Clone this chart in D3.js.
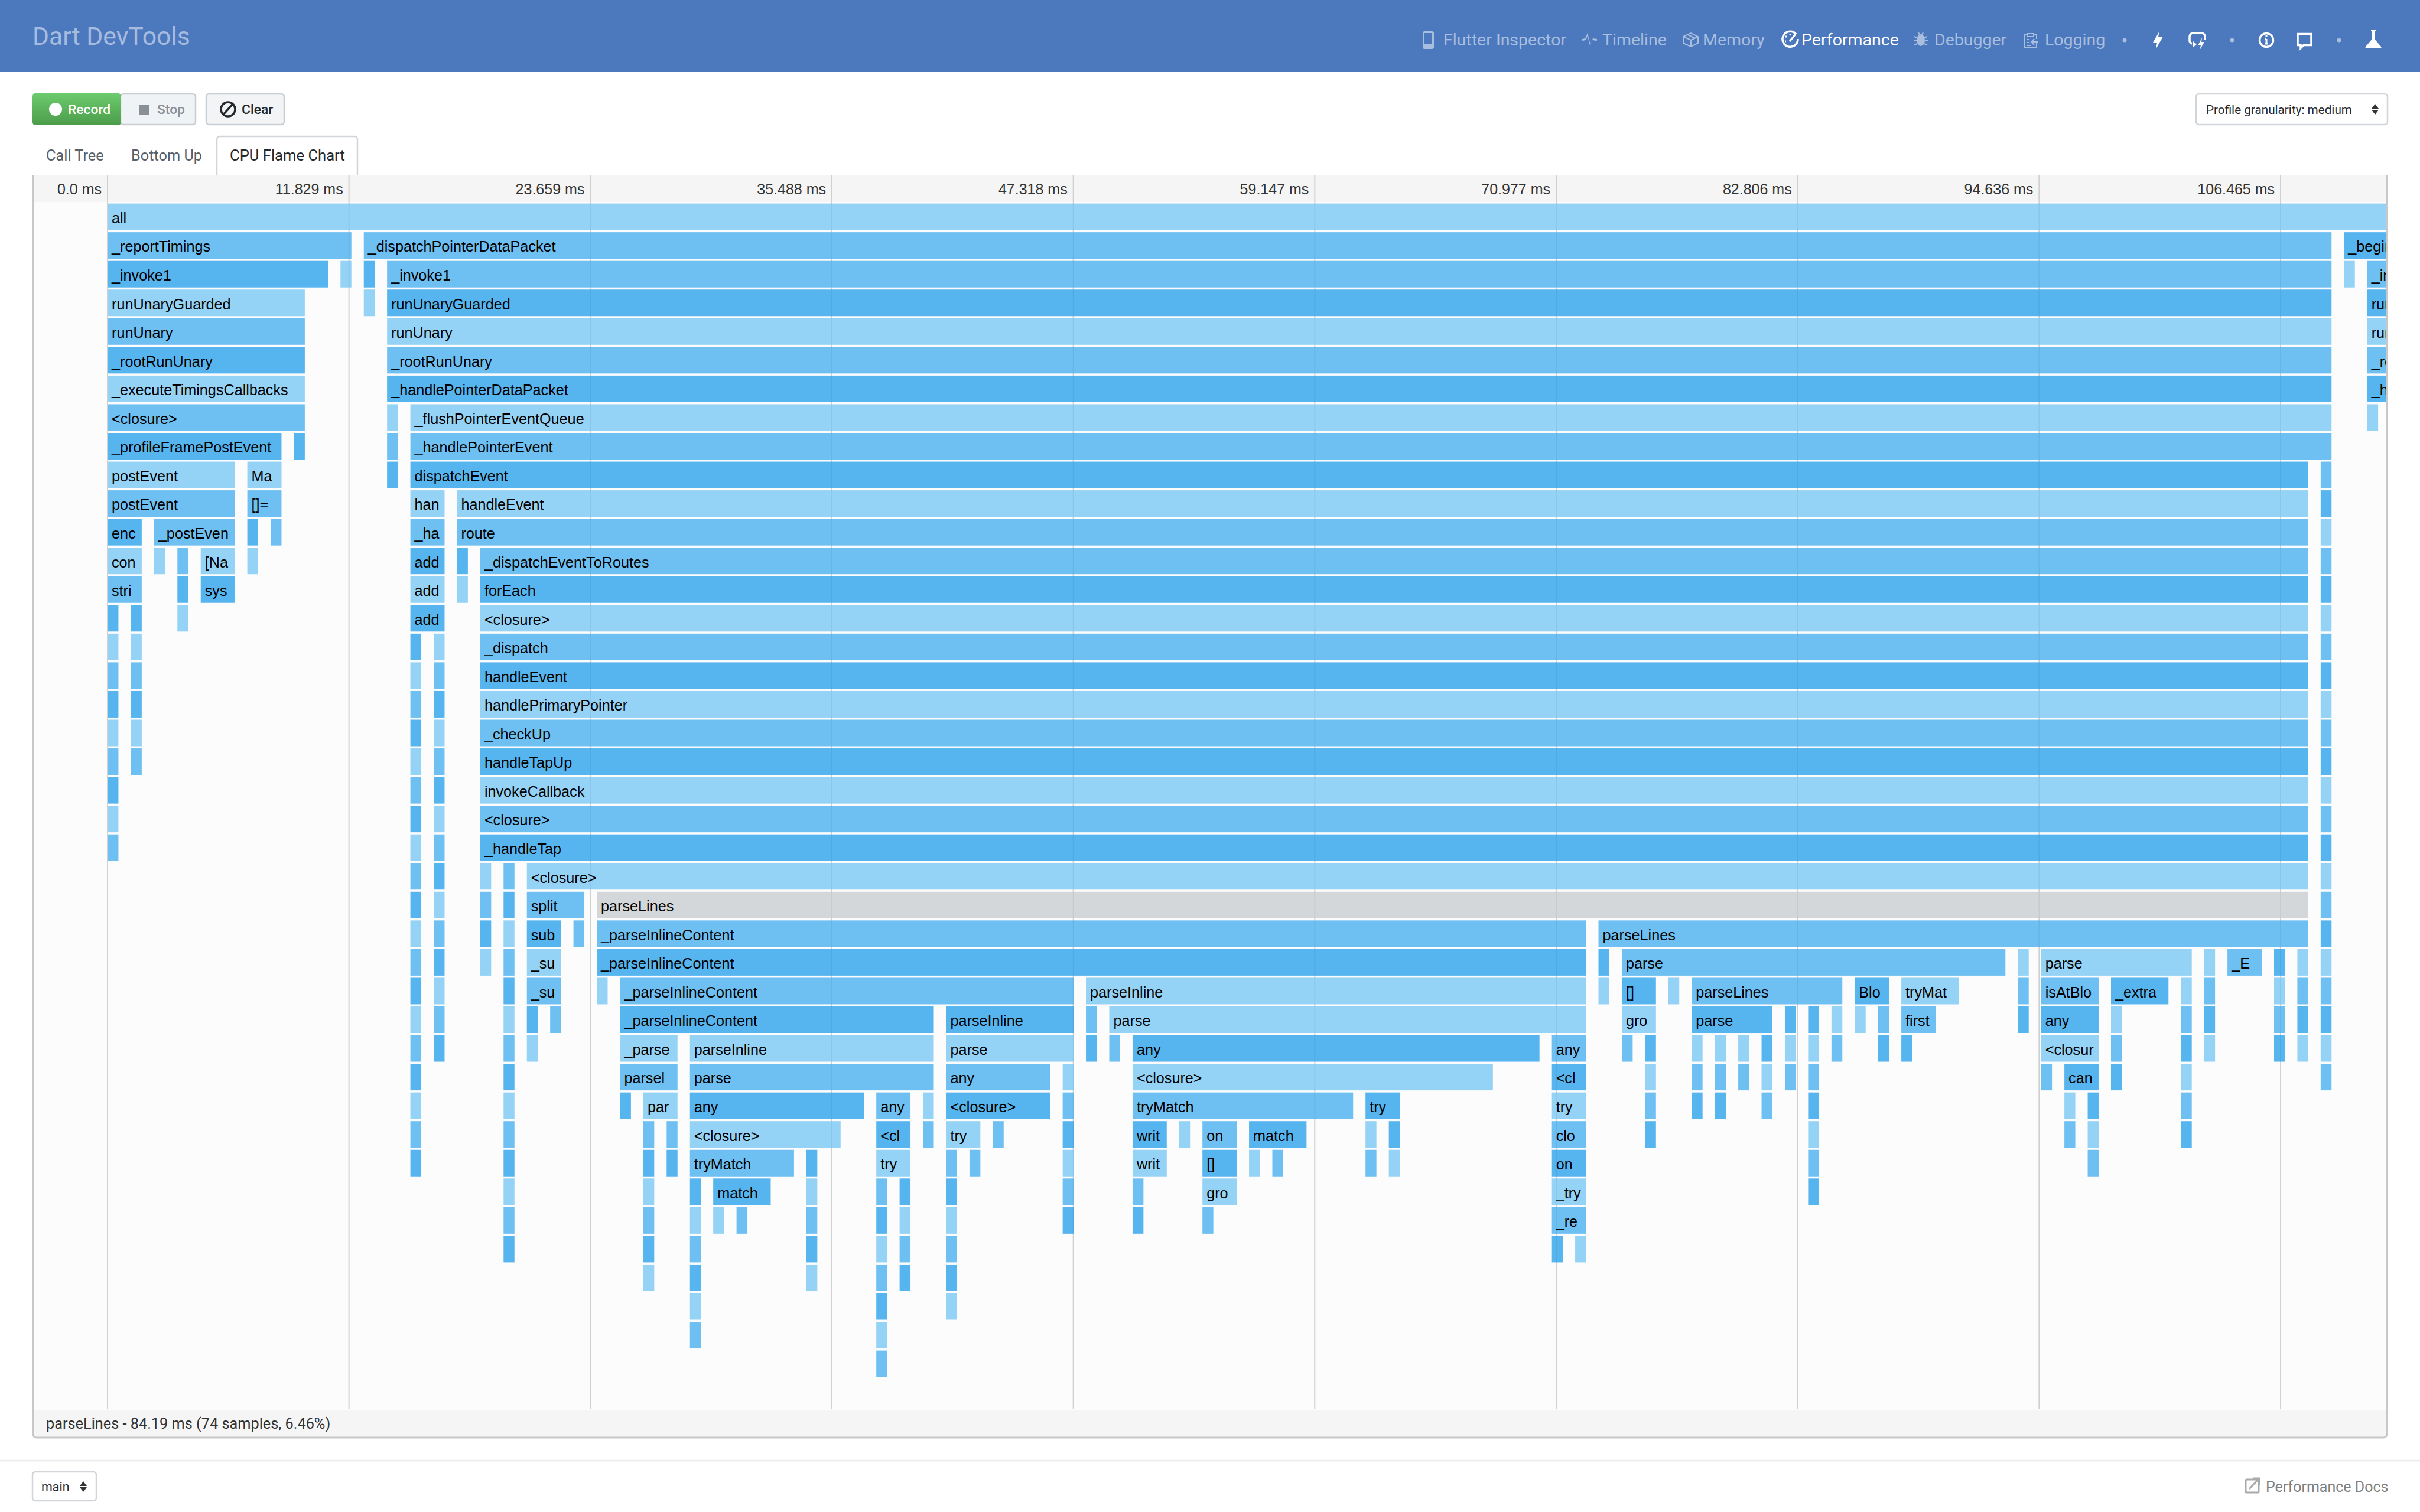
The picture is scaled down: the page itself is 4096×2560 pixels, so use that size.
<!DOCTYPE html>
<html>
<head>
<meta charset="utf-8">
<title>Dart DevTools</title>
<script src="https://d3js.org/d3.v7.min.js"></script>
<style>
  html, body { margin: 0; padding: 0; background: #fff; }
  svg { display: block; }
  text { font-family: "Liberation Sans", Arial, sans-serif; }
  .ui { font-family: Roboto, sans-serif; }
</style>
</head>
<body>
<script>
// time axis
var tickMs = [0, 11.829, 23.659, 35.488, 47.318, 59.147, 70.977, 82.806, 94.636, 106.465];
var tickLabels = ["0.0 ms", "11.829 ms", "23.659 ms", "35.488 ms", "47.318 ms", "59.147 ms", "70.977 ms", "82.806 ms", "94.636 ms", "106.465 ms"];

// flame rows: [label, first sample, sample count, shade]
// shade 0 light, 1 mid, 2 dark, 3 selected
var row00 = [["all", 0, 99, 0]];
var row01 = [["_reportTimings", 0, 11, 1], ["_dispatchPointerDataPacket", 11, 85, 1], ["_begin", 96, 3, 2]];
var row02 = [["_invoke1", 0, 10, 2], ["", 10, 1, 0], ["", 11, 1, 2], ["_invoke1", 12, 84, 1], ["", 96, 1, 0], ["_in", 97, 2, 1]];
var row03 = [["runUnaryGuarded", 0, 9, 0], ["", 11, 1, 0], ["runUnaryGuarded", 12, 84, 2], ["run", 97, 2, 2]];
var row04 = [["runUnary", 0, 9, 1], ["runUnary", 12, 84, 0], ["run", 97, 2, 0]];
var row05 = [["_rootRunUnary", 0, 9, 2], ["_rootRunUnary", 12, 84, 1], ["_ro", 97, 2, 1]];
var row06 = [["_executeTimingsCallbacks", 0, 9, 0], ["_handlePointerDataPacket", 12, 84, 2], ["_ha", 97, 2, 2]];
var row07 = [["<closure>", 0, 9, 1], ["", 12, 1, 0], ["_flushPointerEventQueue", 13, 83, 0], ["", 97, 1, 0]];
var row08 = [["_profileFramePostEvent", 0, 8, 2], ["", 8, 1, 2], ["", 12, 1, 1], ["_handlePointerEvent", 13, 83, 1]];
var row09 = [["postEvent", 0, 6, 0], ["Ma", 6, 2, 0], ["", 12, 1, 2], ["dispatchEvent", 13, 82, 2], ["", 95, 1, 1]];
var row10 = [["postEvent", 0, 6, 1], ["[]=", 6, 2, 1], ["han", 13, 2, 0], ["handleEvent", 15, 80, 0], ["", 95, 1, 2]];
var row11 = [["enc", 0, 2, 2], ["_postEven", 2, 4, 1], ["", 6, 1, 2], ["", 7, 1, 1], ["_ha", 13, 2, 1], ["route", 15, 80, 1], ["", 95, 1, 0]];
var row12 = [["con", 0, 2, 0], ["", 2, 1, 0], ["", 3, 1, 1], ["[Na", 4, 2, 0], ["", 6, 1, 0], ["add", 13, 2, 2], ["", 15, 1, 2], ["_dispatchEventToRoutes", 16, 79, 1], ["", 95, 1, 1]];
var row13 = [["stri", 0, 2, 1], ["", 3, 1, 2], ["sys", 4, 2, 2], ["add", 13, 2, 0], ["", 15, 1, 0], ["forEach", 16, 79, 2], ["", 95, 1, 2]];
var row14 = [["", 0, 1, 2], ["", 1, 1, 2], ["", 3, 1, 0], ["add", 13, 2, 2], ["<closure>", 16, 79, 0], ["", 95, 1, 0]];
var row15 = [["", 0, 1, 0], ["", 1, 1, 0], ["", 13, 1, 2], ["", 14, 1, 0], ["_dispatch", 16, 79, 1], ["", 95, 1, 1]];
var row16 = [["", 0, 1, 1], ["", 1, 1, 1], ["", 13, 1, 0], ["", 14, 1, 1], ["handleEvent", 16, 79, 2], ["", 95, 1, 2]];
var row17 = [["", 0, 1, 2], ["", 1, 1, 2], ["", 13, 1, 1], ["", 14, 1, 2], ["handlePrimaryPointer", 16, 79, 0], ["", 95, 1, 0]];
var row18 = [["", 0, 1, 0], ["", 1, 1, 0], ["", 13, 1, 2], ["", 14, 1, 0], ["_checkUp", 16, 79, 1], ["", 95, 1, 1]];
var row19 = [["", 0, 1, 1], ["", 1, 1, 1], ["", 13, 1, 0], ["", 14, 1, 1], ["handleTapUp", 16, 79, 2], ["", 95, 1, 2]];
var row20 = [["", 0, 1, 2], ["", 13, 1, 1], ["", 14, 1, 2], ["invokeCallback", 16, 79, 0], ["", 95, 1, 0]];
var row21 = [["", 0, 1, 0], ["", 13, 1, 2], ["", 14, 1, 0], ["<closure>", 16, 79, 1], ["", 95, 1, 1]];
var row22 = [["", 0, 1, 1], ["", 13, 1, 0], ["", 14, 1, 1], ["_handleTap", 16, 79, 2], ["", 95, 1, 2]];
var row23 = [["", 13, 1, 1], ["", 14, 1, 2], ["", 16, 1, 0], ["", 17, 1, 1], ["<closure>", 18, 77, 0], ["", 95, 1, 0]];
var row24 = [["", 13, 1, 2], ["", 14, 1, 0], ["", 16, 1, 1], ["", 17, 1, 2], ["split", 18, 3, 1], ["parseLines", 21, 74, 3], ["", 95, 1, 1]];
var row25 = [["", 13, 1, 0], ["", 14, 1, 1], ["", 16, 1, 2], ["", 17, 1, 0], ["sub", 18, 2, 2], ["", 20, 1, 1], ["_parseInlineContent", 21, 43, 1], ["parseLines", 64, 31, 1], ["", 95, 1, 2]];
var row26 = [["", 13, 1, 1], ["", 14, 1, 2], ["", 16, 1, 0], ["", 17, 1, 1], ["_su", 18, 2, 0], ["_parseInlineContent", 21, 43, 2], ["", 64, 1, 2], ["parse", 65, 17, 1], ["", 82, 1, 0], ["parse", 83, 7, 0], ["", 90, 1, 0], ["_E", 91, 2, 1], ["", 93, 1, 2], ["", 94, 1, 0], ["", 95, 1, 0]];
var row27 = [["", 13, 1, 2], ["", 14, 1, 0], ["", 17, 1, 2], ["_su", 18, 2, 1], ["", 21, 1, 0], ["_parseInlineContent", 22, 20, 1], ["parseInline", 42, 22, 0], ["", 64, 1, 0], ["[]", 65, 2, 2], ["", 67, 1, 0], ["parseLines", 68, 7, 1], ["Blo", 75, 2, 2], ["tryMat", 77, 3, 0], ["", 82, 1, 1], ["isAtBlo", 83, 3, 1], ["_extra", 86, 3, 2], ["", 89, 1, 0], ["", 90, 1, 1], ["", 93, 1, 0], ["", 94, 1, 1], ["", 95, 1, 1]];
var row28 = [["", 13, 1, 0], ["", 14, 1, 1], ["", 17, 1, 0], ["", 18, 1, 2], ["", 19, 1, 1], ["_parseInlineContent", 22, 14, 2], ["parseInline", 36, 6, 2], ["", 42, 1, 1], ["parse", 43, 21, 0], ["gro", 65, 2, 0], ["parse", 68, 4, 2], ["", 72, 1, 2], ["", 73, 1, 2], ["", 74, 1, 0], ["", 75, 1, 0], ["", 76, 1, 1], ["first", 77, 2, 1], ["", 82, 1, 2], ["any", 83, 3, 2], ["", 86, 1, 0], ["", 89, 1, 1], ["", 90, 1, 2], ["", 93, 1, 1], ["", 94, 1, 2], ["", 95, 1, 2]];
var row29 = [["", 13, 1, 1], ["", 14, 1, 2], ["", 17, 1, 1], ["", 18, 1, 0], ["_parse", 22, 3, 0], ["parseInline", 25, 11, 0], ["parse", 36, 6, 0], ["", 42, 1, 2], ["", 43, 1, 1], ["any", 44, 18, 2], ["any", 62, 2, 1], ["", 65, 1, 1], ["", 66, 1, 2], ["", 68, 1, 0], ["", 69, 1, 0], ["", 70, 1, 0], ["", 71, 1, 2], ["", 72, 1, 0], ["", 73, 1, 0], ["", 74, 1, 1], ["", 76, 1, 2], ["", 77, 1, 2], ["<closur", 83, 3, 0], ["", 86, 1, 1], ["", 89, 1, 2], ["", 90, 1, 0], ["", 93, 1, 2], ["", 94, 1, 0], ["", 95, 1, 0]];
var row30 = [["", 13, 1, 2], ["", 17, 1, 2], ["parsel", 22, 3, 1], ["parse", 25, 11, 1], ["any", 36, 5, 1], ["", 41, 1, 0], ["<closure>", 44, 16, 0], ["<cl", 62, 2, 2], ["", 66, 1, 0], ["", 68, 1, 1], ["", 69, 1, 1], ["", 70, 1, 1], ["", 71, 1, 0], ["", 72, 1, 1], ["", 73, 1, 1], ["", 83, 1, 1], ["can", 84, 2, 2], ["", 86, 1, 2], ["", 89, 1, 0], ["", 95, 1, 1]];
var row31 = [["", 13, 1, 0], ["", 17, 1, 0], ["", 22, 1, 2], ["par", 23, 2, 0], ["any", 25, 8, 2], ["any", 33, 2, 1], ["", 35, 1, 0], ["<closure>", 36, 5, 2], ["", 41, 1, 1], ["tryMatch", 44, 10, 1], ["try", 54, 2, 2], ["try", 62, 2, 0], ["", 66, 1, 1], ["", 68, 1, 2], ["", 69, 1, 2], ["", 71, 1, 1], ["", 73, 1, 2], ["", 84, 1, 0], ["", 85, 1, 2], ["", 89, 1, 1]];
var row32 = [["", 13, 1, 1], ["", 17, 1, 1], ["", 23, 1, 1], ["", 24, 1, 1], ["<closure>", 25, 7, 0], ["<cl", 33, 2, 2], ["", 35, 1, 1], ["try", 36, 2, 0], ["", 38, 1, 1], ["", 41, 1, 2], ["writ", 44, 2, 2], ["", 46, 1, 0], ["on", 47, 2, 1], ["match", 49, 3, 2], ["", 54, 1, 0], ["", 55, 1, 2], ["clo", 62, 2, 1], ["", 66, 1, 2], ["", 73, 1, 0], ["", 84, 1, 1], ["", 85, 1, 0], ["", 89, 1, 2]];
var row33 = [["", 13, 1, 2], ["", 17, 1, 2], ["", 23, 1, 2], ["", 24, 1, 2], ["tryMatch", 25, 5, 1], ["", 30, 1, 2], ["try", 33, 2, 0], ["", 36, 1, 1], ["", 37, 1, 1], ["", 41, 1, 0], ["writ", 44, 2, 0], ["[]", 47, 2, 2], ["", 49, 1, 0], ["", 50, 1, 1], ["", 54, 1, 1], ["", 55, 1, 0], ["on", 62, 2, 2], ["", 73, 1, 1], ["", 85, 1, 1]];
var row34 = [["", 17, 1, 0], ["", 23, 1, 0], ["", 25, 1, 2], ["match", 26, 3, 2], ["", 30, 1, 0], ["", 33, 1, 1], ["", 34, 1, 2], ["", 36, 1, 2], ["", 41, 1, 1], ["", 44, 1, 1], ["gro", 47, 2, 0], ["_try", 62, 2, 0], ["", 73, 1, 2]];
var row35 = [["", 17, 1, 1], ["", 23, 1, 1], ["", 25, 1, 0], ["", 26, 1, 0], ["", 27, 1, 1], ["", 30, 1, 1], ["", 33, 1, 2], ["", 34, 1, 0], ["", 36, 1, 0], ["", 41, 1, 2], ["", 44, 1, 2], ["", 47, 1, 1], ["_re", 62, 2, 1]];
var row36 = [["", 17, 1, 2], ["", 23, 1, 2], ["", 25, 1, 1], ["", 30, 1, 2], ["", 33, 1, 0], ["", 34, 1, 1], ["", 36, 1, 1], ["", 62, 1, 2], ["", 63, 1, 0]];
var row37 = [["", 23, 1, 0], ["", 25, 1, 2], ["", 30, 1, 0], ["", 33, 1, 1], ["", 34, 1, 2], ["", 36, 1, 2]];
var row38 = [["", 25, 1, 0], ["", 33, 1, 2], ["", 36, 1, 0]];
var row39 = [["", 25, 1, 1], ["", 33, 1, 0]];
var row40 = [["", 33, 1, 1]];

var flameRows = [row00, row01, row02, row03, row04, row05, row06, row07, row08, row09, row10,
  row11, row12, row13, row14, row15, row16, row17, row18, row19, row20,
  row21, row22, row23, row24, row25, row26, row27, row28, row29, row30,
  row31, row32, row33, row34, row35, row36, row37, row38, row39, row40];

// toolbar text
var navLabels = ["Flutter Inspector", "Timeline", "Memory", "Performance", "Debugger", "Logging"];
var statusText = "parseLines - 84.19 ms (74 samples, 6.46%)";

var width = 4096, height = 2560;
var svg = d3.select("body").append("svg").attr("width", width).attr("height", height);

var x = d3.scaleLinear().domain([0, 98]).range([182, 182 + 98 * 39.43]);
var y = d3.scaleLinear().domain([0, 41]).range([344.6, 344.6 + 41 * 48.55]);
var time = d3.scaleLinear().domain([0, 106.465]).range([182, 3860]);
var shade = d3.scaleOrdinal().domain([0, 1, 2, 3]).range(["#94d2f6", "#6ebff2", "#56b4ef", "#d3d7da"]);

// app bar
svg.append("rect").attr("width", width).attr("height", 122).attr("fill", "#4c79bd");
svg.append("text").attr("class", "ui").attr("x", 55).attr("y", 76).attr("font-size", 42.7)
  .attr("fill", "#a6bbdd").text("Dart DevTools");

var navX = [2443, 2712, 2882, 3049, 3274, 3461];
svg.append("g").selectAll("text").data(navLabels).enter().append("text")
  .attr("class", "ui")
  .attr("x", (d, i) => navX[i])
  .attr("y", 67).attr("dy", ".35em")
  .attr("font-size", 28.5)
  .attr("fill", (d) => (d == "Performance" ? "#fff" : "#a9bedf"))
  .text((d) => d);

var dim = "#a9bedf";
var icons = svg.append("g").attr("fill", "none").attr("stroke-width", 3);
// inspector phone
icons.append("rect").attr("x", 2409.5).attr("y", 54.5).attr("width", 16).attr("height", 27).attr("rx", 2).attr("stroke", dim);
icons.append("rect").attr("x", 2409.5).attr("y", 74).attr("width", 16).attr("height", 7.5).attr("fill", dim);
// timeline pulse
icons.append("path").attr("d", "M2678 66l5-1 4-9 5 20 4-11 7 1v3l-8-1-4 9-4-16-3 7-6 1z").attr("fill", dim);
// memory box
icons.append("path").attr("d", "M2849 62l13-6 12 6v11l-12 6-13-6zM2849 62l13 6 12-6M2862 68v11M2857 59l12 6").attr("stroke", dim).attr("stroke-width", 2);
// performance gauge
icons.append("path").attr("d", "M3040 58a13 13 0 1 0 3 8").attr("stroke", "#fff").attr("stroke-width", 3.5);
icons.append("path").attr("d", "M3029 70l10-12M3022 62h2M3030 58v2M3021 70h2").attr("stroke", "#fff");
// debugger bug
icons.append("ellipse").attr("cx", 3251).attr("cy", 68).attr("rx", 7).attr("ry", 10).attr("fill", dim);
icons.append("path").attr("d", "M3240 62l5 2M3262 62l-5 2M3239 69h5M3263 69h-5M3240 76l5-2M3262 76l-5-2M3247 55l2 4M3255 55l-2 4").attr("stroke", dim).attr("stroke-width", 2);
// logging clipboard
icons.append("path").attr("d", "M3432 59h-5v22h20v-8M3442 59h5v7M3432 57h10v5h-10z").attr("stroke", dim).attr("stroke-width", 2);
icons.append("path").attr("d", "M3450 71h-12M3443 66l-5 5 5 5M3431 67h4M3431 72h4M3431 77h6").attr("stroke", dim).attr("stroke-width", 2);
// separators
[3596, 3778, 3959].forEach((cx) => {
  icons.append("circle").attr("cx", cx).attr("cy", 68).attr("r", 3.5).attr("fill", dim);
});
// action icons
icons.append("path").attr("d", "M3655 53l-11 19h7l-2 11 12-21h-8z").attr("fill", "#fff");
icons.append("path").attr("d", "M3710 74a6 6 0 0 1-4-5v-7a6 6 0 0 1 6-6h14a6 6 0 0 1 6 6v5").attr("stroke", "#fff").attr("stroke-width", 3.5);
icons.append("path").attr("d", "M3712 70v10l6-5zM3727 64l-7 13h5l-2 8 8-14h-5z").attr("fill", "#fff");
icons.append("circle").attr("cx", 3836).attr("cy", 68).attr("r", 11.5).attr("stroke", "#fff").attr("stroke-width", 3.5);
icons.append("path").attr("d", "M3836 66v8M3836 60v3M3833 66h3M3833 74h6").attr("stroke", "#fff");
icons.append("path").attr("d", "M3889 57.5h23v19h-13l-5 5v-5h-5z").attr("stroke", "#fff").attr("stroke-width", 3.5);
icons.append("path").attr("d", "M4013 50h9v3h-2v4h-1v9l11 13a1 1 0 0 1-1 2h-24a1 1 0 0 1-1-2l11-13v-9h-1v-4h-1z").attr("fill", "#fff");

// buttons
var defs = svg.append("defs");
var grad = defs.append("linearGradient").attr("id", "recordFill").attr("x2", 0).attr("y2", 1);
grad.append("stop").attr("offset", 0).attr("stop-color", "#6ccb6e");
grad.append("stop").attr("offset", 1).attr("stop-color", "#4c9c4a");

svg.append("rect").attr("x", 204).attr("y", 159).attr("width", 127).attr("height", 52).attr("rx", 5)
  .attr("fill", "#f0f3f6").attr("stroke", "#c9ced3").attr("stroke-width", 2.5);
svg.append("rect").attr("x", 55).attr("y", 158).attr("width", 150).attr("height", 54).attr("rx", 5)
  .attr("fill", "url(#recordFill)");
svg.append("circle").attr("cx", 94).attr("cy", 185).attr("r", 11).attr("fill", "#fff");
svg.append("text").attr("class", "ui").attr("x", 115).attr("y", 185).attr("dy", ".35em").attr("font-size", 22.8)
  .attr("font-weight", 500).attr("fill", "#fff").text("Record");
svg.append("rect").attr("x", 235).attr("y", 177).attr("width", 17).attr("height", 17).attr("fill", "#8b9096");
svg.append("text").attr("class", "ui").attr("x", 266).attr("y", 185).attr("dy", ".35em").attr("font-size", 22.8)
  .attr("font-weight", 500).attr("fill", "#8b9096").text("Stop");
svg.append("rect").attr("x", 349).attr("y", 159).attr("width", 132).attr("height", 52).attr("rx", 5)
  .attr("fill", "#f2f4f6").attr("stroke", "#c9ced3").attr("stroke-width", 2.5);
svg.append("circle").attr("cx", 386).attr("cy", 185).attr("r", 12).attr("fill", "none").attr("stroke", "#24292e").attr("stroke-width", 3.5);
svg.append("path").attr("d", "M378 194l16-18").attr("stroke", "#24292e").attr("stroke-width", 3.5);
svg.append("text").attr("class", "ui").attr("x", 409).attr("y", 185).attr("dy", ".35em").attr("font-size", 22.8)
  .attr("font-weight", 500).attr("fill", "#24292e").text("Clear");

// tabs
svg.append("path").attr("d", "M367 296V236a5 5 0 0 1 5-5H600a5 5 0 0 1 5 5V296")
  .attr("fill", "#fff").attr("stroke", "#d1d5da").attr("stroke-width", 2.5);
svg.append("text").attr("class", "ui").attr("x", 78).attr("y", 263).attr("dy", ".35em").attr("font-size", 25.3).attr("fill", "#586069").text("Call Tree");
svg.append("text").attr("class", "ui").attr("x", 222).attr("y", 263).attr("dy", ".35em").attr("font-size", 25.3).attr("fill", "#586069").text("Bottom Up");
svg.append("text").attr("class", "ui").attr("x", 389).attr("y", 263).attr("dy", ".35em").attr("font-size", 25.6).attr("fill", "#24292e").text("CPU Flame Chart");

// granularity select
svg.append("rect").attr("x", 3717).attr("y", 159).attr("width", 324).attr("height", 52).attr("rx", 5)
  .attr("fill", "#fff").attr("stroke", "#d1d5da").attr("stroke-width", 2.5);
svg.append("text").attr("class", "ui").attr("x", 3734).attr("y", 186).attr("dy", ".35em").attr("font-size", 20.7).attr("fill", "#24292e").text("Profile granularity: medium");
svg.append("path").attr("d", "M4020 176l6 8h-12zM4020 194l6-8h-12z").attr("fill", "#333");

// chart frame
svg.append("rect").attr("x", 55).attr("y", 296).attr("width", 3985).attr("height", 2138).attr("fill", "#fcfcfc");
svg.append("rect").attr("x", 55).attr("y", 296).attr("width", 3985).attr("height", 46).attr("fill", "#f5f5f5");

svg.append("clipPath").attr("id", "chartClip").append("rect")
  .attr("x", 55).attr("y", 296).attr("width", 3985).attr("height", 2138);
var chart = svg.append("g").attr("clip-path", "url(#chartClip)");

// time axis and grid, under the bars
var axis = d3.axisTop(time).tickValues(tickMs).offset(0)
  .tickSize(-2089)
  .tickFormat((d, i) => tickLabels[i]);

var axisG = chart.append("g").attr("transform", "translate(0,296)").call(axis);
axisG.select(".domain").remove();
axisG.selectAll(".tick line").attr("stroke", "#dcdcdc").attr("stroke-width", 2);
axisG.selectAll(".tick text")
  .attr("x", -10).attr("y", 24).attr("dy", ".35em")
  .attr("text-anchor", "end")
  .attr("font-family", '"Liberation Sans", Arial, sans-serif')
  .attr("font-size", 25)
  .attr("fill", "#333");

// flame bars
var row = chart.selectAll("g.row").data(flameRows).enter().append("g")
  .attr("class", "row")
  .attr("transform", (d, i) => "translate(0," + y(i) + ")");

var bar = row.selectAll("g").data((d) => d).enter().append("g")
  .attr("transform", (d) => "translate(" + x(d[1]) + ",0)");

bar.append("rect")
  .attr("width", (d) => x(d[2]) - x(0) - 21)
  .attr("height", 45)
  .attr("fill", (d) => shade(d[3]));

bar.append("text")
  .attr("x", 7)
  .attr("y", 24.5)
  .attr("dy", ".35em")
  .attr("font-size", 25.2)
  .attr("fill", "#000")
  .text((d) => d[0]);

// faint grid over the bars
var overlay = chart.append("g").attr("transform", "translate(0,296)")
  .call(d3.axisTop(time).tickValues(tickMs).offset(0).tickSize(-2089).tickFormat(""));
overlay.select(".domain").remove();
overlay.selectAll(".tick line").attr("stroke", "#000").attr("stroke-opacity", 0.05).attr("stroke-width", 2);

// status bar
svg.append("rect").attr("x", 55).attr("y", 2388).attr("width", 3985).attr("height", 46).attr("fill", "#f5f5f5");
svg.append("text").attr("class", "ui").attr("x", 78).attr("y", 2410).attr("dy", ".35em").attr("font-size", 25.3).attr("fill", "#333").text(statusText);

// frame border, open at the top
svg.append("path").attr("d", "M56 296V2428a6 6 0 0 0 6 6H4034a6 6 0 0 0 6-6V296")
  .attr("fill", "none").attr("stroke", "#c8c8c8").attr("stroke-width", 3);

// footer
svg.append("line").attr("x1", 0).attr("x2", width).attr("y1", 2473).attr("y2", 2473).attr("stroke", "#ececec").attr("stroke-width", 2.5);
svg.append("rect").attr("x", 55).attr("y", 2492).attr("width", 108).attr("height", 49).attr("rx", 5)
  .attr("fill", "#fff").attr("stroke", "#d1d5da").attr("stroke-width", 2.5);
svg.append("text").attr("class", "ui").attr("x", 70).attr("y", 2517).attr("dy", ".35em").attr("font-size", 21.5).attr("fill", "#24292e").text("main");
svg.append("path").attr("d", "M141 2508l6 8h-12zM141 2526l6-8h-12z").attr("fill", "#333");

svg.append("rect").attr("x", 3801).attr("y", 2505).attr("width", 22).attr("height", 22).attr("rx", 2)
  .attr("fill", "none").attr("stroke", "#aaa").attr("stroke-width", 3);
svg.append("path").attr("d", "M3807 2521l17-18M3813 2503h11v11").attr("fill", "none").attr("stroke", "#aaa").attr("stroke-width", 3);
svg.append("text").attr("class", "ui").attr("x", 3835).attr("y", 2517).attr("dy", ".35em").attr("font-size", 25).attr("fill", "#808080").text("Performance Docs");
</script>
</body>
</html>
